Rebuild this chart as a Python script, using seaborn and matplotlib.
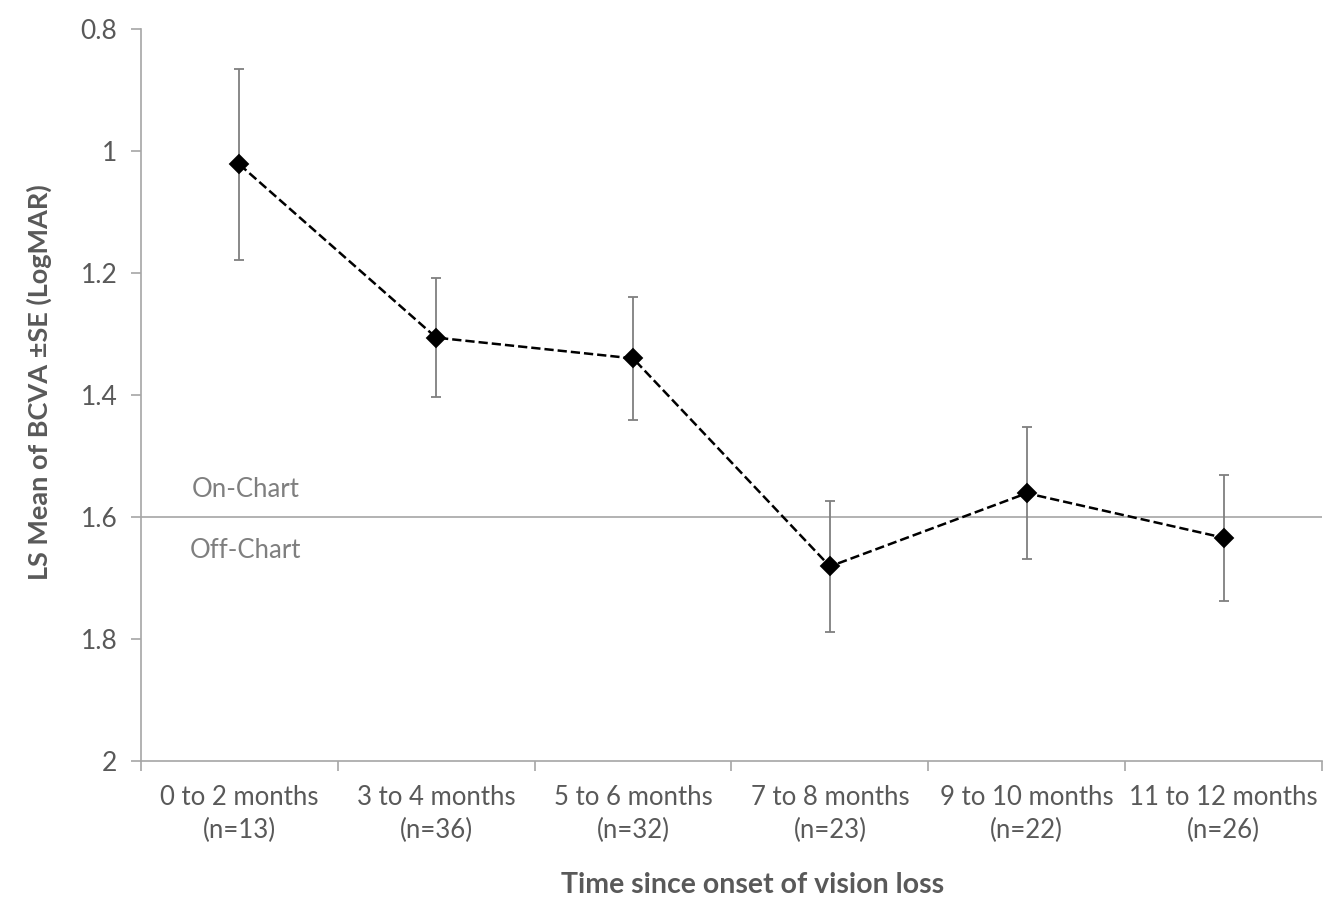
import matplotlib
matplotlib.use("Agg")
import matplotlib.pyplot as plt
import seaborn as sns
import pandas as pd
import numpy as np

categories = ["0 to 2 months\n(n=13)", "3 to 4 months\n(n=36)", "5 to 6 months\n(n=32)",
              "7 to 8 months\n(n=23)", "9 to 10 months\n(n=22)", "11 to 12 months\n(n=26)"]
means = [1.022, 1.306, 1.340, 1.681, 1.561, 1.634]
se = [0.157, 0.098, 0.101, 0.108, 0.108, 0.103]
yticks = [0.8, 1.0, 1.2, 1.4, 1.6, 1.8, 2.0]
ytick_labels = ["0.8", "1", "1.2", "1.4", "1.6", "1.8", "2"]
threshold = 1.6

sns.set_theme(style="white")
plt.rcParams['font.family'] = ['Lato', 'DejaVu Sans']

grey = "#595959"
axis_grey = "#a6a6a6"

df = pd.DataFrame({"period": categories, "mean": means, "se": se})

fig = plt.figure(figsize=(13.37, 9.19), dpi=100)
ax = fig.add_axes([141/1337, 1 - 761/919, (1322-141)/1337, (761-29)/919])

ax.axhline(threshold, color=axis_grey, lw=1.2, zorder=1)

x = np.arange(len(categories))
ax.errorbar(x, df["mean"], yerr=df["se"], fmt="none", ecolor="#7f7f7f",
            elinewidth=1.3, capsize=3.5, capthick=1.3, zorder=2)

sns.pointplot(data=df, x="period", y="mean", ax=ax, color="black", markers="D",
              linestyles="--", errorbar=None, markersize=9, linewidth=1.8, zorder=3)

ax.set_xlim(-0.5, len(categories) - 0.5)
ax.set_ylim(2.0, 0.8)
ax.set_yticks(yticks)
ax.set_yticklabels(ytick_labels, fontsize=19, color=grey)
ax.set_xticks(x)
ax.set_xticklabels(categories, fontsize=18.5, color=grey, linespacing=1.4)
ax.set_xticks(np.arange(len(categories) + 1) - 0.5, minor=True)
ax.tick_params(axis="x", which="major", length=0, pad=17)
ax.tick_params(axis="x", which="minor", length=7, color=axis_grey, width=1.2, direction="out", bottom=True)
ax.tick_params(axis="y", length=7, color=axis_grey, width=1.2, direction="out", left=True, pad=10)

for s in ["top", "right"]:
    ax.spines[s].set_visible(False)
for s in ["left", "bottom"]:
    ax.spines[s].set_color(axis_grey)
    ax.spines[s].set_linewidth(1.2)

ax.set_ylabel("LS Mean of BCVA \u00b1SE (LogMAR)", fontsize=19.5, fontweight="bold", color=grey)
ax.set_xlabel("Time since onset of vision loss", fontsize=20.5, fontweight="bold", color=grey)
ax.yaxis.set_label_coords(-0.0755, 0.518)
ax.xaxis.set_label_coords(0.518, -0.152)

ax.text(0.03, 1.555, "On-Chart", fontsize=18.5, color="#7f7f7f", ha="center", va="center")
ax.text(0.03, 1.655, "Off-Chart", fontsize=18.5, color="#7f7f7f", ha="center", va="center")

fig.savefig("out.png", dpi=100, facecolor="white")
